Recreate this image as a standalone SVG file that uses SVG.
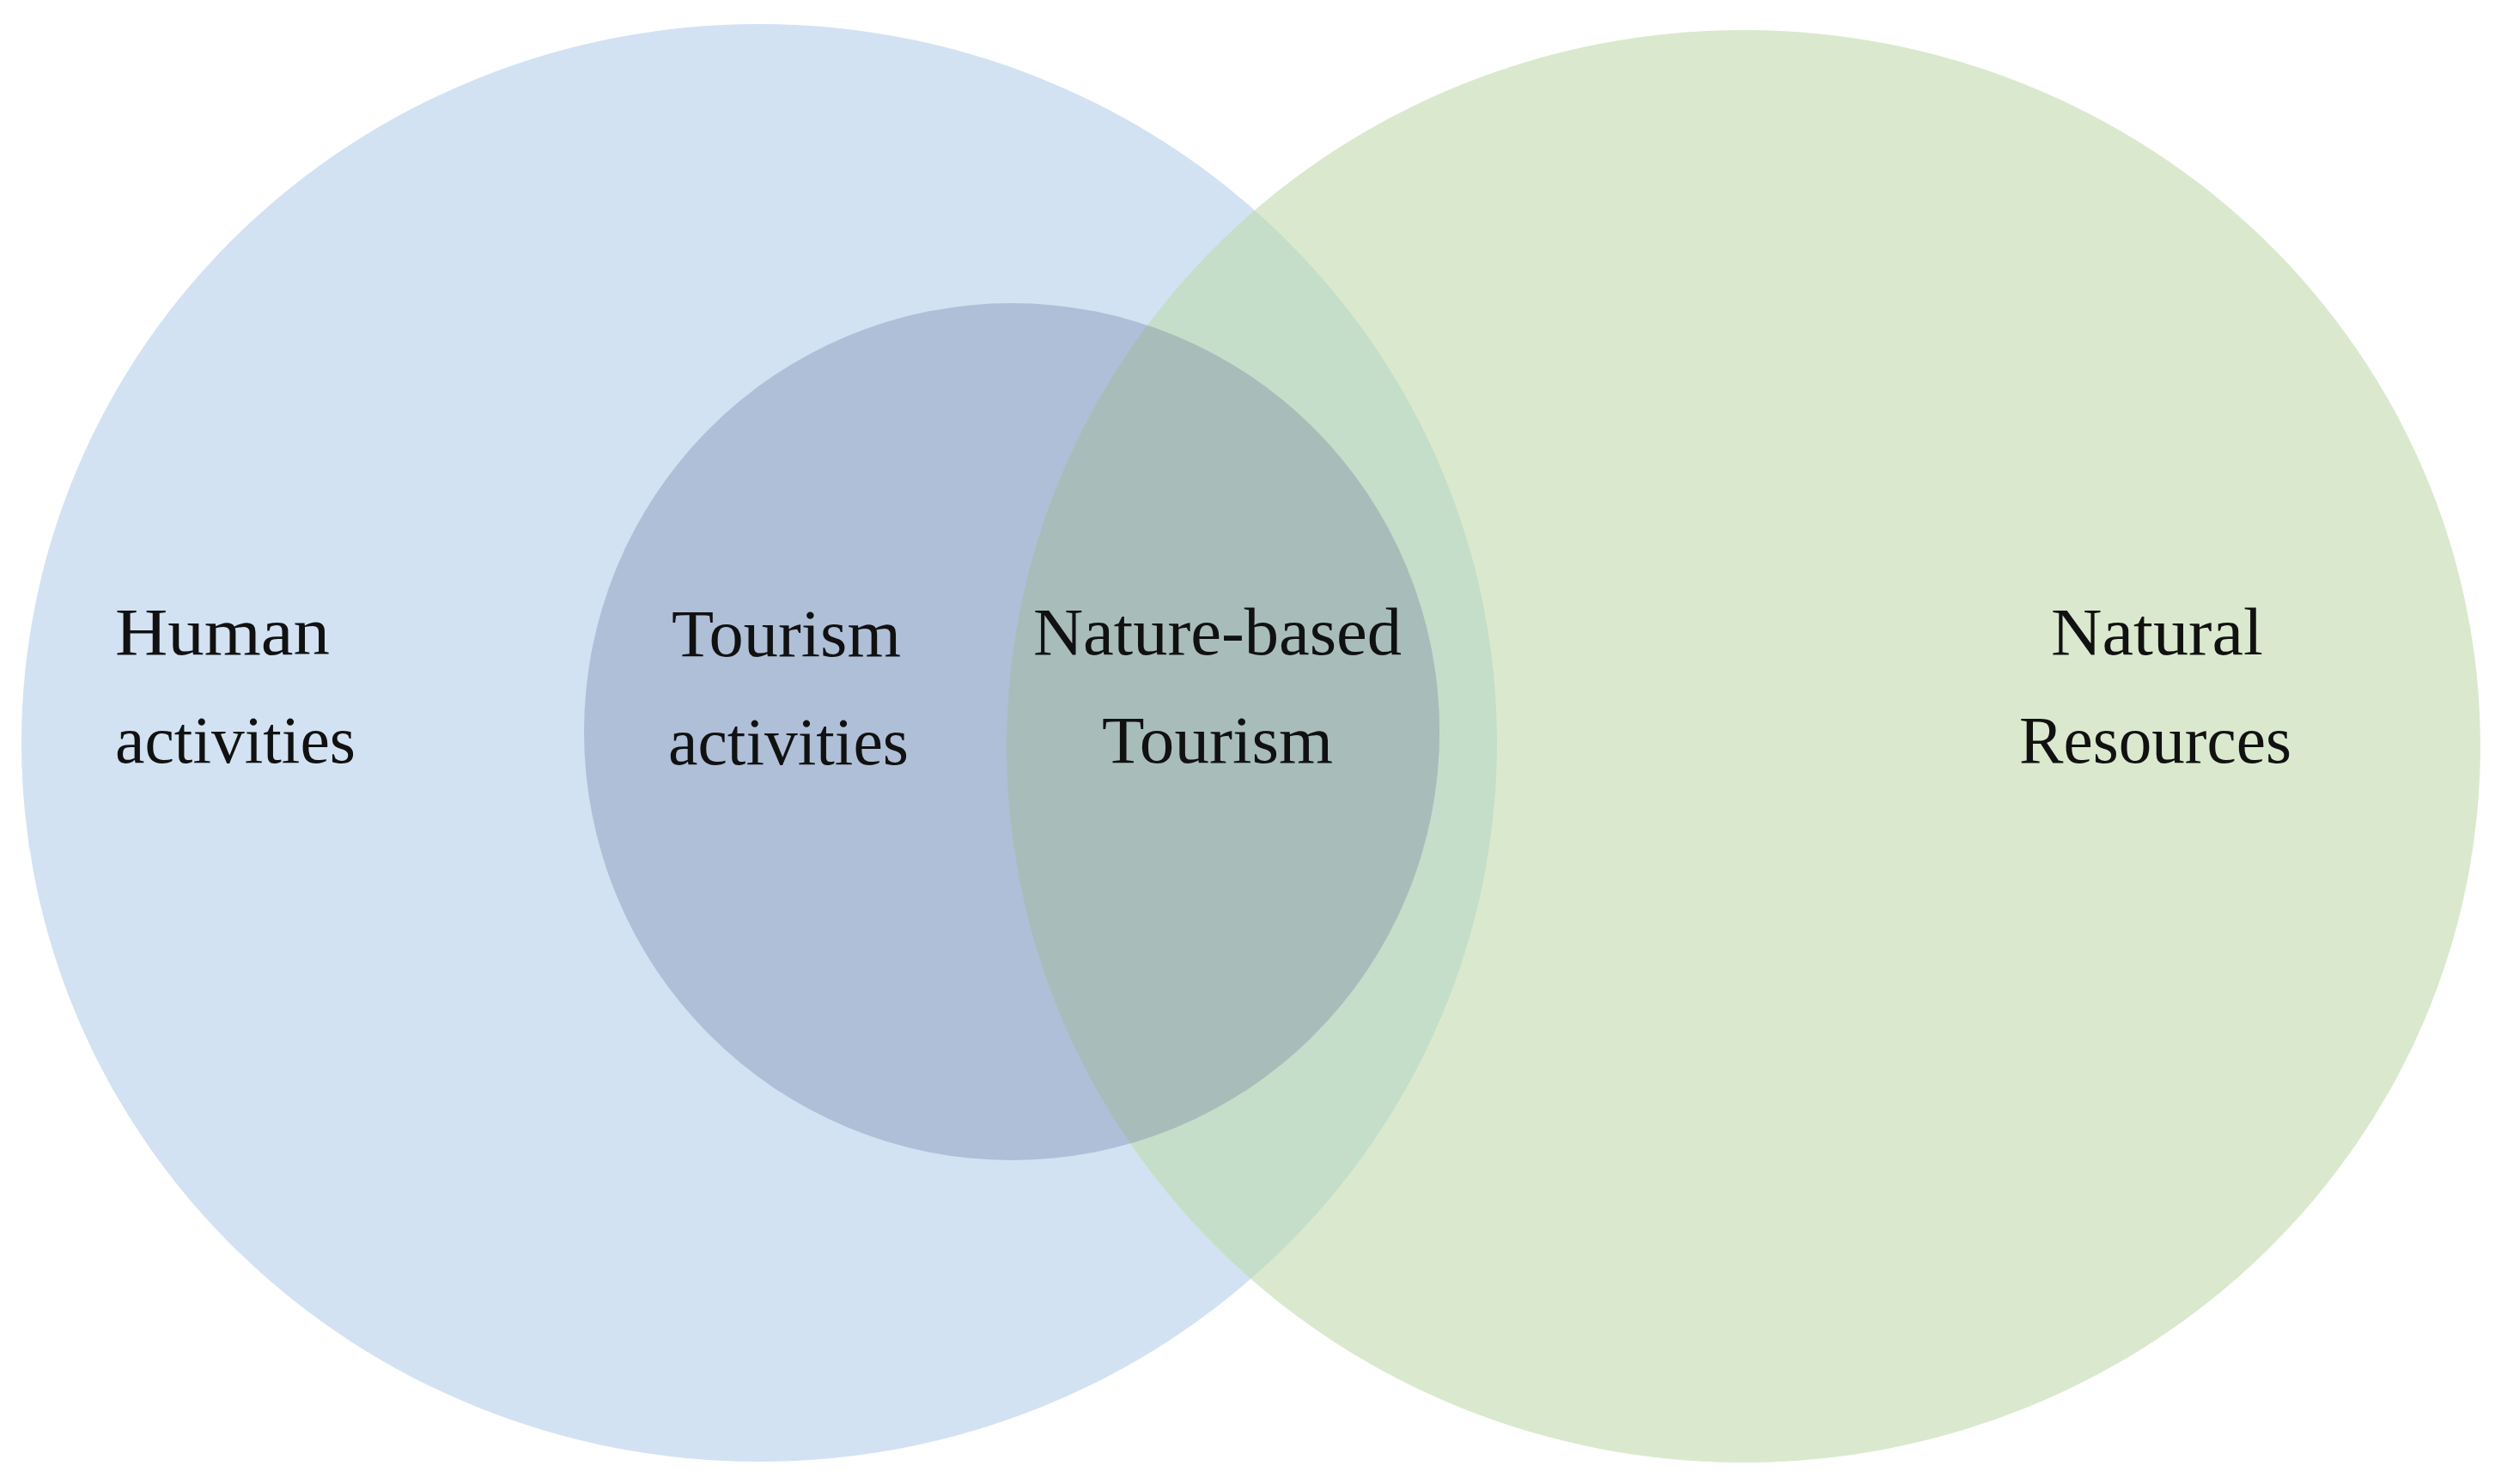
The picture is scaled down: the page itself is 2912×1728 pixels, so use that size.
<svg xmlns="http://www.w3.org/2000/svg" width="2912" height="1728" viewBox="0 0 2912 1728">
<style>
.lbl{font-family:"Liberation Serif","DejaVu Serif",serif;font-size:78px;fill:#111111;}
</style>
<defs>
<clipPath id="clipBlue"><ellipse cx="884" cy="865" rx="859" ry="837"/></clipPath>
<clipPath id="clipInner"><ellipse cx="1178" cy="852" rx="498" ry="499"/></clipPath>
</defs>
<rect width="2912" height="1728" fill="#ffffff"/>
<g id="human-activities">
<ellipse cx="884" cy="865" rx="859" ry="837" fill="#D2E2F2"/>
<text class="lbl" x="134" y="762" textLength="250" lengthAdjust="spacingAndGlyphs">Human</text>
<text class="lbl" x="134" y="888" textLength="280" lengthAdjust="spacingAndGlyphs">activities</text>
</g>
<g id="natural-resources">
<ellipse cx="2030" cy="869" rx="858" ry="834" fill="#DAE9CE"/>
<ellipse cx="2030" cy="869" rx="858" ry="834" fill="#C4DEC9" clip-path="url(#clipBlue)"/>
<text class="lbl" x="2388" y="762" textLength="247" lengthAdjust="spacingAndGlyphs">Natural</text>
<text class="lbl" x="2351" y="888" textLength="317" lengthAdjust="spacingAndGlyphs">Resources</text>
</g>
<g id="tourism-activities">
<ellipse cx="1178" cy="852" rx="498" ry="499" fill="#AFBFD7"/>
<ellipse cx="2030" cy="869" rx="858" ry="834" fill="#A8BDBA" clip-path="url(#clipInner)"/>
<text class="lbl" x="782" y="764" textLength="267" lengthAdjust="spacingAndGlyphs">Tourism</text>
<text class="lbl" x="778" y="890" textLength="280" lengthAdjust="spacingAndGlyphs">activities</text>
</g>
<g id="nature-based-tourism">
<text class="lbl" x="1203" y="762" textLength="429" lengthAdjust="spacingAndGlyphs">Nature-based</text>
<text class="lbl" x="1283" y="888" textLength="269" lengthAdjust="spacingAndGlyphs">Tourism</text>
</g>
<g id="connectors"></g>
</svg>
